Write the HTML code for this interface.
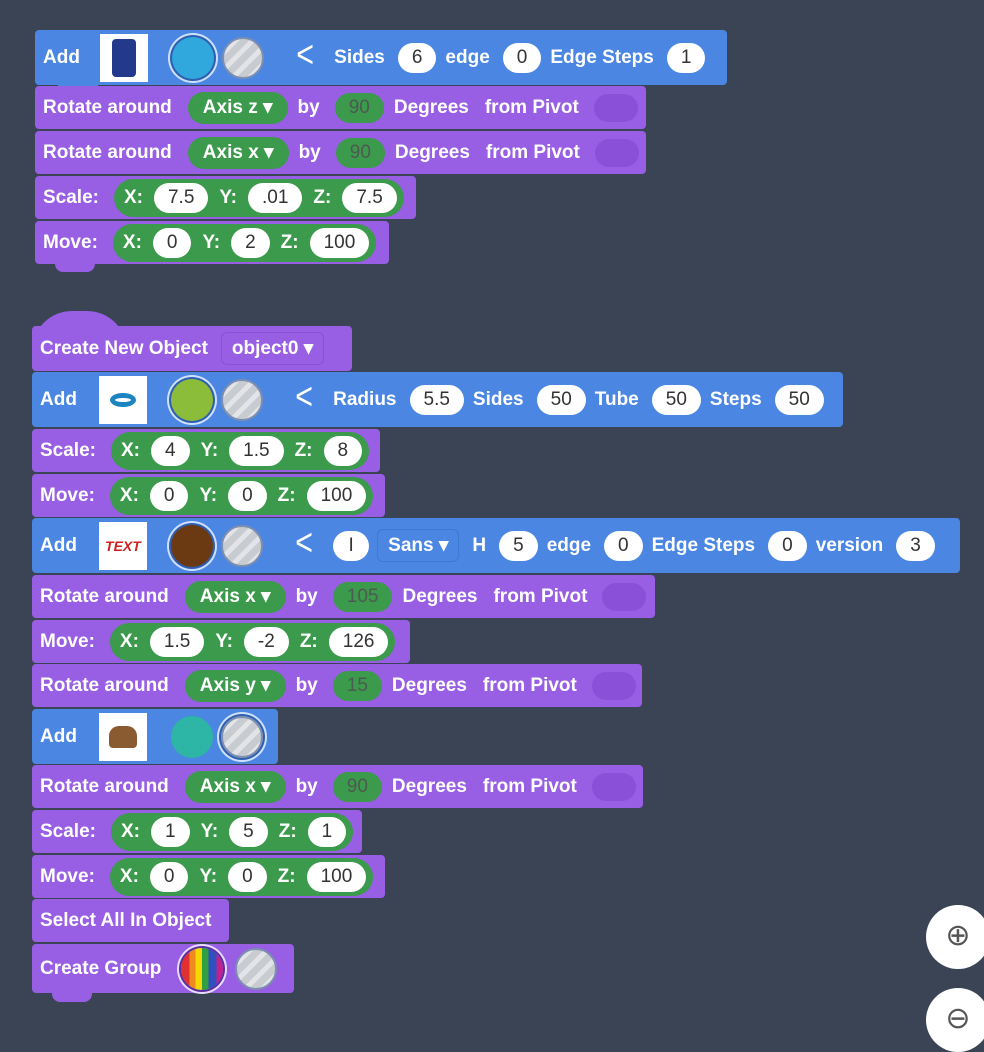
<!DOCTYPE html>
<html><head><meta charset="utf-8"><style>
body{margin:0;width:984px;height:1024px;background:#3a4454;font-family:"Liberation Sans",sans-serif;overflow:hidden;position:relative}
.b{position:absolute;display:flex;align-items:center;box-sizing:border-box;padding-left:8px;color:#fff;font-size:19px;font-weight:bold;border-radius:4px;white-space:nowrap}
.bl{background:#4a86e2}
.pu{background:#985ee3}
.m{margin-left:13px}
.p{background:#fff;color:#333;border-radius:15px;height:30px;line-height:30px;padding:0 14px;font-weight:normal;font-size:19px;text-align:center;min-width:8px}
.dd{background:#3c9a4c;border-radius:16px;height:32px;line-height:32px;padding:0 15px;color:#fff;margin-left:16px}
.n{background:#3c9a4c;border-radius:15px;height:30px;line-height:30px;padding:0 14px;color:#4c5a50;font-weight:normal;margin-left:15px}
.g{background:#3c9a4c;border-radius:19px;height:38px;display:flex;align-items:center;padding:0 7px 0 10px;gap:11px;margin-left:15px}
.th{width:48px;height:48px;background:#fff;display:flex;align-items:center;justify-content:center;margin-left:20px}
.c{width:42px;height:42px;border-radius:50%;box-sizing:border-box}
.ring{box-shadow:0 0 0 2px #2f5fb0,0 0 0 4px #cfe0ff}
.st{background:repeating-linear-gradient(135deg,#c8cbd0 0 7px,#e2e4e7 7px 12px);border:2px solid #7d8fb0;margin-left:8px}
.pv{width:44px;height:28px;border-radius:14px;background:#8a50d8;margin-left:15px}
.lt{font-size:38px;font-weight:normal;margin:0 18px 4px 30px;transform:scaleX(0.8)}
.nb{position:absolute;width:40px;height:10px;border-radius:0 0 8px 8px}
.w{margin-left:9px}
.bb{margin-left:10px}
.f{margin-left:16px}
</style></head><body>

<!-- stack 1 -->
<div class="b bl" style="left:35px;top:30px;width:692px;height:55px">Add
<div class="th"><div style="width:24px;height:38px;background:#233a8c;border-radius:4px"></div></div>
<div class="c ring" style="background:#30a7dd;margin-left:24px"></div>
<div class="c st"></div>
<span class="lt">&lt;</span><span>Sides</span><span class="p m">6</span><span class="w">edge</span><span class="p m">0</span><span class="w">Edge Steps</span><span class="p m">1</span></div>
<div class="nb bl" style="left:58px;top:84px"></div>
<div class="b pu" style="left:35px;top:86px;width:611px;height:43px">Rotate around<span class="dd">Axis z ▾</span><span class="bb">by</span><span class="n">90</span><span class="bb">Degrees</span><span class="f">from Pivot</span><span class="pv"></span></div>
<div class="b pu" style="left:35px;top:131px;width:611px;height:43px">Rotate around<span class="dd">Axis x ▾</span><span class="bb">by</span><span class="n">90</span><span class="bb">Degrees</span><span class="f">from Pivot</span><span class="pv"></span></div>
<div class="b pu" style="left:35px;top:176px;width:381px;height:43px">Scale:<div class="g">X:<span class="p">7.5</span>Y:<span class="p">.01</span>Z:<span class="p">7.5</span></div></div>
<div class="b pu" style="left:35px;top:221px;width:354px;height:43px">Move:<div class="g">X:<span class="p">0</span>Y:<span class="p">2</span>Z:<span class="p">100</span></div></div>
<div class="nb pu" style="left:55px;top:262px"></div>

<!-- stack 2 -->
<div style="position:absolute;left:32px;top:311px;width:95px;height:40px;background:#985ee3;border-radius:50px 50px 0 0"></div>
<div class="b pu" style="left:32px;top:326px;width:320px;height:45px">Create New Object<span class="m" style="border:1px solid #8a50d8;border-radius:6px;padding:4px 10px">object0 ▾</span></div>
<div class="b bl" style="left:32px;top:372px;width:811px;height:55px">Add
<div class="th" style="margin-left:22px"><div style="width:26px;height:14px;border-radius:50%;border:5px solid #1c84c0;box-sizing:border-box"></div></div>
<div class="c ring" style="background:#8cbd3a;margin-left:24px"></div>
<div class="c st"></div>
<span class="lt">&lt;</span><span>Radius</span><span class="p m">5.5</span><span class="w">Sides</span><span class="p m">50</span><span class="w">Tube</span><span class="p m">50</span><span class="w">Steps</span><span class="p m">50</span></div>
<div class="b pu" style="left:32px;top:429px;width:348px;height:43px">Scale:<div class="g">X:<span class="p">4</span>Y:<span class="p">1.5</span>Z:<span class="p">8</span></div></div>
<div class="b pu" style="left:32px;top:474px;width:353px;height:43px">Move:<div class="g">X:<span class="p">0</span>Y:<span class="p">0</span>Z:<span class="p">100</span></div></div>
<div class="b bl" style="left:32px;top:518px;width:928px;height:55px">Add
<div class="th" style="margin-left:22px"><span style="color:#d02020;font-size:14px;font-style:italic">TEXT</span></div>
<div class="c ring" style="background:#6b3a12;margin-left:24px"></div>
<div class="c st"></div>
<span class="lt">&lt;</span><span class="p">I</span><span style="border:1px solid #3f78d0;border-radius:6px;padding:4px 10px;margin-left:8px">Sans ▾</span><span class="m">H</span><span class="p m">5</span><span class="w">edge</span><span class="p m">0</span><span class="w">Edge Steps</span><span class="p m">0</span><span class="w">version</span><span class="p m">3</span></div>
<div class="b pu" style="left:32px;top:575px;width:623px;height:43px">Rotate around<span class="dd">Axis x ▾</span><span class="bb">by</span><span class="n">105</span><span class="bb">Degrees</span><span class="f">from Pivot</span><span class="pv"></span></div>
<div class="b pu" style="left:32px;top:620px;width:378px;height:43px">Move:<div class="g">X:<span class="p">1.5</span>Y:<span class="p">-2</span>Z:<span class="p">126</span></div></div>
<div class="b pu" style="left:32px;top:664px;width:610px;height:43px">Rotate around<span class="dd">Axis y ▾</span><span class="bb">by</span><span class="n">15</span><span class="bb">Degrees</span><span class="f">from Pivot</span><span class="pv"></span></div>
<div class="b bl" style="left:32px;top:709px;width:246px;height:55px">Add
<div class="th" style="margin-left:22px"><div style="width:28px;height:22px;background:#8a5a30;border-radius:10px 10px 4px 4px"></div></div>
<div class="c" style="background:#2db5a5;margin-left:24px"></div>
<div class="c st ring"></div></div>
<div class="b pu" style="left:32px;top:765px;width:611px;height:43px">Rotate around<span class="dd">Axis x ▾</span><span class="bb">by</span><span class="n">90</span><span class="bb">Degrees</span><span class="f">from Pivot</span><span class="pv"></span></div>
<div class="b pu" style="left:32px;top:810px;width:330px;height:43px">Scale:<div class="g">X:<span class="p">1</span>Y:<span class="p">5</span>Z:<span class="p">1</span></div></div>
<div class="b pu" style="left:32px;top:855px;width:353px;height:43px">Move:<div class="g">X:<span class="p">0</span>Y:<span class="p">0</span>Z:<span class="p">100</span></div></div>
<div class="b pu" style="left:32px;top:899px;width:197px;height:43px">Select All In Object</div>
<div class="b pu" style="left:32px;top:944px;width:262px;height:49px">Create Group
<div class="c" style="margin-left:20px;background:linear-gradient(90deg,#e03030 0 20%,#f08a20 20% 35%,#f5d800 35% 50%,#30a040 50% 65%,#3050c0 65% 85%,#c02090 85%);box-shadow:0 0 0 2px #5a2ea0,0 0 0 4px #e6dcff"></div>
<div class="c st" style="margin-left:12px"></div></div>
<div class="nb pu" style="left:52px;top:992px"></div>

<div style="position:absolute;left:926px;top:905px;width:64px;height:64px;border-radius:50%;background:#fff;color:#555;font-size:30px;text-align:center;line-height:62px">⊕</div>
<div style="position:absolute;left:926px;top:988px;width:64px;height:64px;border-radius:50%;background:#fff;color:#555;font-size:30px;text-align:center;line-height:62px">⊖</div>
</body></html>
